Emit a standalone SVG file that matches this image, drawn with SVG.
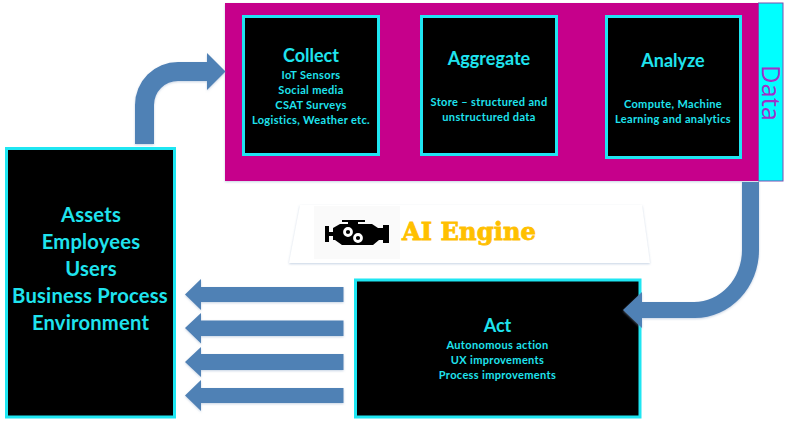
<svg xmlns="http://www.w3.org/2000/svg" width="799" height="426" viewBox="0 0 799 426">
<style>
.box{fill:#000;stroke:#1fe6f2;stroke-width:3}
.arrow{fill:#4f81b5;filter:url(#sh)}
text{font-family:Lato,"Open Sans","Liberation Sans",sans-serif;fill:#1fe3ee;text-anchor:middle}
.h{font-size:18px;font-weight:700}
.s{font-size:11px;font-weight:700;letter-spacing:.35px}
.l{font-size:20.2px;font-weight:700;letter-spacing:.2px}
</style>
<defs>
<filter id="sh" x="-10%" y="-10%" width="120%" height="125%"><feDropShadow dx="0" dy="1" stdDeviation="1" flood-color="#8fa8c8" flood-opacity=".5"/></filter>
</defs>
<rect width="799" height="426" fill="#fff"/>
<g id="data-panel">
<rect x="225" y="3" width="534" height="178" fill="#c6008b" filter="url(#sh)"/>
<rect x="758.500" y="3" width="24.500" height="178" fill="#00ffff" stroke="#7a4fb0" stroke-width="1"/>
<text transform="translate(762 93) rotate(90)" style="font-family:'Open Sans',sans-serif;font-size:25.500px;fill:#a030c8">Data</text>
</g>
<g id="collect">
<rect class="box" x="243.500" y="16.500" width="135" height="138"/>
<text class="h" x="311" y="62">Collect</text>
<text class="s" x="311" y="79">IoT Sensors</text>
<text class="s" x="311" y="94">Social media</text>
<text class="s" x="311" y="109">CSAT Surveys</text>
<text class="s" x="311" y="124">Logistics, Weather etc.</text>
</g>
<g id="aggregate">
<rect class="box" x="421.500" y="16.500" width="135" height="138"/>
<text class="h" x="489" y="65">Aggregate</text>
<text class="s" x="489" y="106">Store – structured and</text>
<text class="s" x="489" y="121">unstructured data</text>
</g>
<g id="analyze">
<rect class="box" x="606.500" y="16.500" width="134" height="141"/>
<text class="h" x="673" y="67">Analyze</text>
<text class="s" x="673" y="108">Compute, Machine</text>
<text class="s" x="673" y="123">Learning and analytics</text>
</g>
<g id="ai-engine">
<path d="M300 205H642L650 263H289Z" fill="#fff" filter="url(#sh)"/>
<rect x="314" y="206" width="86" height="53" fill="#fafafa"/>
<path d="M325 226H329V232H333V228L340 224H348V222H342V220H365V222H358V224H372L378 228H383V225H389V243H383V240H379L373 245H342L335 240H333V236H329V242H325Z" fill="#000"/>
<circle cx="348" cy="232" r="3.500" fill="none" stroke="#fff" stroke-width="2.800"/>
<circle cx="358" cy="238" r="3.500" fill="none" stroke="#fff" stroke-width="2.800"/>
<text x="469" y="240" textLength="134" lengthAdjust="spacingAndGlyphs" style="font-family:'DejaVu Serif',serif;font-size:24px;font-weight:700;fill:#ffc000;stroke:#ffc000;stroke-width:.8">AI Engine</text>
</g>
<g id="act">
<rect class="box" x="355.500" y="280" width="284.500" height="137"/>
<text class="h" x="497.500" y="332">Act</text>
<text class="s" x="497.500" y="349">Autonomous action</text>
<text class="s" x="497.500" y="364">UX improvements</text>
<text class="s" x="497.500" y="379">Process improvements</text>
</g>
<g id="stakeholders">
<rect class="box" x="6.500" y="148.500" width="168" height="268.500"/>
<text class="l" x="91" y="222">Assets</text>
<text class="l" x="91" y="249">Employees</text>
<text class="l" x="91" y="276">Users</text>
<text class="l" x="90" y="303">Business Process</text>
<text class="l" x="90.500" y="330">Environment</text>
</g>
<g id="connectors">
<path class="arrow" d="M135 144V105a43 43 0 0 1 43-43H207V53L225.500 71.500 207 90V81H178a24 24 0 0 0-24 24V144Z"/>
<path class="arrow" d="M742 182V250a48 52 0 0 1-48 52H642V292L623 310 642 328V318H695a64 68 0 0 0 64-68V182Z"/>
<path class="arrow" d="M343.500 287H201V279L185 294.500 201 310V302H343.500Z"/>
<path class="arrow" d="M343.500 320.500H201V313L185 328 201 343.500V336H343.500Z"/>
<path class="arrow" d="M343.500 354H201V347L185 362 201 377V370H343.500Z"/>
<path class="arrow" d="M343.500 388H201V380L185 395.500 201 411V403H343.500Z"/>
</g>
</svg>
